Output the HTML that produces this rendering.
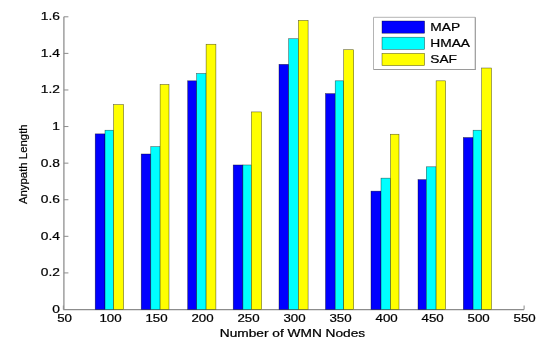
<!DOCTYPE html><html><head><meta charset="utf-8"><style>
html,body{margin:0;padding:0;background:#fff;width:550px;height:344px;overflow:hidden}
svg{display:block}
text{font-family:"Liberation Sans",Arial,Helvetica,sans-serif;fill:#000;stroke:#000;stroke-width:0.22px}
</style></head><body>
<svg width="550" height="344" viewBox="0 0 550 344">
<rect x="0" y="0" width="550" height="344" fill="#fff"/>
<path d="M63.9 16.80V309.5H524.10" fill="none" stroke="#8c8c8c" stroke-width="1.25"/>
<line x1="63.9" y1="309.50" x2="68.4" y2="309.50" stroke="#8c8c8c" stroke-width="1"/>
<text transform="translate(59.9 312.90) scale(1.25 1)" font-size="11" text-anchor="end">0</text>
<line x1="63.9" y1="272.91" x2="68.4" y2="272.91" stroke="#8c8c8c" stroke-width="1"/>
<text transform="translate(59.9 276.31) scale(1.25 1)" font-size="11" text-anchor="end">0.2</text>
<line x1="63.9" y1="236.32" x2="68.4" y2="236.32" stroke="#8c8c8c" stroke-width="1"/>
<text transform="translate(59.9 239.72) scale(1.25 1)" font-size="11" text-anchor="end">0.4</text>
<line x1="63.9" y1="199.74" x2="68.4" y2="199.74" stroke="#8c8c8c" stroke-width="1"/>
<text transform="translate(59.9 203.14) scale(1.25 1)" font-size="11" text-anchor="end">0.6</text>
<line x1="63.9" y1="163.15" x2="68.4" y2="163.15" stroke="#8c8c8c" stroke-width="1"/>
<text transform="translate(59.9 166.55) scale(1.25 1)" font-size="11" text-anchor="end">0.8</text>
<line x1="63.9" y1="126.56" x2="68.4" y2="126.56" stroke="#8c8c8c" stroke-width="1"/>
<text transform="translate(59.9 129.96) scale(1.25 1)" font-size="11" text-anchor="end">1</text>
<line x1="63.9" y1="89.97" x2="68.4" y2="89.97" stroke="#8c8c8c" stroke-width="1"/>
<text transform="translate(59.9 93.37) scale(1.25 1)" font-size="11" text-anchor="end">1.2</text>
<line x1="63.9" y1="53.38" x2="68.4" y2="53.38" stroke="#8c8c8c" stroke-width="1"/>
<text transform="translate(59.9 56.78) scale(1.25 1)" font-size="11" text-anchor="end">1.4</text>
<line x1="63.9" y1="16.80" x2="68.4" y2="16.80" stroke="#8c8c8c" stroke-width="1"/>
<text transform="translate(59.9 20.20) scale(1.25 1)" font-size="11" text-anchor="end">1.6</text>
<line x1="63.34" y1="309.5" x2="63.34" y2="305.5" stroke="#8c8c8c" stroke-width="1"/>
<text transform="translate(64.54 322.4) scale(1.21 1)" font-size="11" text-anchor="middle">50</text>
<line x1="109.35" y1="309.5" x2="109.35" y2="305.5" stroke="#8c8c8c" stroke-width="1"/>
<text transform="translate(110.55 322.4) scale(1.21 1)" font-size="11" text-anchor="middle">100</text>
<line x1="155.35" y1="309.5" x2="155.35" y2="305.5" stroke="#8c8c8c" stroke-width="1"/>
<text transform="translate(156.55 322.4) scale(1.21 1)" font-size="11" text-anchor="middle">150</text>
<line x1="201.36" y1="309.5" x2="201.36" y2="305.5" stroke="#8c8c8c" stroke-width="1"/>
<text transform="translate(202.56 322.4) scale(1.21 1)" font-size="11" text-anchor="middle">200</text>
<line x1="247.37" y1="309.5" x2="247.37" y2="305.5" stroke="#8c8c8c" stroke-width="1"/>
<text transform="translate(248.56 322.4) scale(1.21 1)" font-size="11" text-anchor="middle">250</text>
<line x1="293.37" y1="309.5" x2="293.37" y2="305.5" stroke="#8c8c8c" stroke-width="1"/>
<text transform="translate(294.57 322.4) scale(1.21 1)" font-size="11" text-anchor="middle">300</text>
<line x1="339.38" y1="309.5" x2="339.38" y2="305.5" stroke="#8c8c8c" stroke-width="1"/>
<text transform="translate(340.57 322.4) scale(1.21 1)" font-size="11" text-anchor="middle">350</text>
<line x1="385.38" y1="309.5" x2="385.38" y2="305.5" stroke="#8c8c8c" stroke-width="1"/>
<text transform="translate(386.58 322.4) scale(1.21 1)" font-size="11" text-anchor="middle">400</text>
<line x1="431.38" y1="309.5" x2="431.38" y2="305.5" stroke="#8c8c8c" stroke-width="1"/>
<text transform="translate(432.58 322.4) scale(1.21 1)" font-size="11" text-anchor="middle">450</text>
<line x1="477.39" y1="309.5" x2="477.39" y2="305.5" stroke="#8c8c8c" stroke-width="1"/>
<text transform="translate(478.59 322.4) scale(1.21 1)" font-size="11" text-anchor="middle">500</text>
<line x1="524.10" y1="309.5" x2="524.10" y2="305.5" stroke="#8c8c8c" stroke-width="1"/>
<text transform="translate(524.60 322.4) scale(1.21 1)" font-size="11" text-anchor="middle">550</text>
<rect x="95.20" y="133.88" width="9.80" height="175.62" fill="#0000ff" stroke="#000" stroke-width="0.55" stroke-opacity="0.65"/>
<rect x="105.00" y="130.22" width="8.60" height="179.28" fill="#00ffff" stroke="#000" stroke-width="0.55" stroke-opacity="0.65"/>
<rect x="113.60" y="104.61" width="10.00" height="204.89" fill="#ffff00" stroke="#000" stroke-width="0.55" stroke-opacity="0.65"/>
<rect x="141.20" y="154.00" width="9.60" height="155.50" fill="#0000ff" stroke="#000" stroke-width="0.55" stroke-opacity="0.65"/>
<rect x="150.80" y="146.68" width="9.30" height="162.82" fill="#00ffff" stroke="#000" stroke-width="0.55" stroke-opacity="0.65"/>
<rect x="160.10" y="84.48" width="8.90" height="225.02" fill="#ffff00" stroke="#000" stroke-width="0.55" stroke-opacity="0.65"/>
<rect x="187.70" y="80.82" width="9.00" height="228.68" fill="#0000ff" stroke="#000" stroke-width="0.55" stroke-opacity="0.65"/>
<rect x="196.70" y="73.51" width="9.40" height="235.99" fill="#00ffff" stroke="#000" stroke-width="0.55" stroke-opacity="0.65"/>
<rect x="206.10" y="44.24" width="9.80" height="265.26" fill="#ffff00" stroke="#000" stroke-width="0.55" stroke-opacity="0.65"/>
<rect x="233.20" y="164.98" width="9.70" height="144.52" fill="#0000ff" stroke="#000" stroke-width="0.55" stroke-opacity="0.65"/>
<rect x="242.90" y="164.98" width="8.50" height="144.52" fill="#00ffff" stroke="#000" stroke-width="0.55" stroke-opacity="0.65"/>
<rect x="251.40" y="111.92" width="10.20" height="197.58" fill="#ffff00" stroke="#000" stroke-width="0.55" stroke-opacity="0.65"/>
<rect x="279.00" y="64.36" width="9.70" height="245.14" fill="#0000ff" stroke="#000" stroke-width="0.55" stroke-opacity="0.65"/>
<rect x="288.70" y="38.75" width="9.70" height="270.75" fill="#00ffff" stroke="#000" stroke-width="0.55" stroke-opacity="0.65"/>
<rect x="298.40" y="20.45" width="9.70" height="289.05" fill="#ffff00" stroke="#000" stroke-width="0.55" stroke-opacity="0.65"/>
<rect x="325.50" y="93.63" width="9.70" height="215.87" fill="#0000ff" stroke="#000" stroke-width="0.55" stroke-opacity="0.65"/>
<rect x="335.20" y="80.82" width="8.50" height="228.68" fill="#00ffff" stroke="#000" stroke-width="0.55" stroke-opacity="0.65"/>
<rect x="343.70" y="49.73" width="10.00" height="259.77" fill="#ffff00" stroke="#000" stroke-width="0.55" stroke-opacity="0.65"/>
<rect x="371.00" y="191.14" width="10.00" height="118.36" fill="#0000ff" stroke="#000" stroke-width="0.55" stroke-opacity="0.65"/>
<rect x="381.00" y="178.15" width="9.50" height="131.35" fill="#00ffff" stroke="#000" stroke-width="0.55" stroke-opacity="0.65"/>
<rect x="390.50" y="134.24" width="8.50" height="175.26" fill="#ffff00" stroke="#000" stroke-width="0.55" stroke-opacity="0.65"/>
<rect x="418.00" y="179.61" width="8.30" height="129.89" fill="#0000ff" stroke="#000" stroke-width="0.55" stroke-opacity="0.65"/>
<rect x="426.30" y="166.81" width="9.80" height="142.69" fill="#00ffff" stroke="#000" stroke-width="0.55" stroke-opacity="0.65"/>
<rect x="436.10" y="80.82" width="9.50" height="228.68" fill="#ffff00" stroke="#000" stroke-width="0.55" stroke-opacity="0.65"/>
<rect x="463.30" y="137.54" width="9.80" height="171.96" fill="#0000ff" stroke="#000" stroke-width="0.55" stroke-opacity="0.65"/>
<rect x="473.10" y="130.22" width="8.60" height="179.28" fill="#00ffff" stroke="#000" stroke-width="0.55" stroke-opacity="0.65"/>
<rect x="481.70" y="68.02" width="9.80" height="241.48" fill="#ffff00" stroke="#000" stroke-width="0.55" stroke-opacity="0.65"/>
<text transform="translate(292.5 336.7) scale(1.306 1)" font-size="10.5" text-anchor="middle">Number of WMN Nodes</text>
<text transform="translate(26.6 164.2) rotate(-90) scale(1 0.89)" font-size="11.4" text-anchor="middle">Anypath Length</text>
<rect x="373.5" y="17.3" width="101.8" height="52.2" fill="#fff"/>
<path d="M373.5 69.5V17.3H475.3" fill="none" stroke="#b4b4b4" stroke-width="1"/>
<path d="M475.3 17.3V69.5H373.5" fill="none" stroke="#9a9a9a" stroke-width="1.2"/>
<rect x="382" y="21.00" width="42.6" height="12.2" fill="#0000ff" stroke="#000" stroke-width="0.55" stroke-opacity="0.65"/>
<text transform="translate(430.3 30.90) scale(1.25 1)" font-size="11">MAP</text>
<rect x="382" y="37.20" width="42.6" height="12.2" fill="#00ffff" stroke="#000" stroke-width="0.55" stroke-opacity="0.65"/>
<text transform="translate(430.3 47.10) scale(1.25 1)" font-size="11">HMAA</text>
<rect x="382" y="53.40" width="42.6" height="12.2" fill="#ffff00" stroke="#000" stroke-width="0.55" stroke-opacity="0.65"/>
<text transform="translate(430.3 63.30) scale(1.25 1)" font-size="11">SAF</text>
</svg></body></html>
